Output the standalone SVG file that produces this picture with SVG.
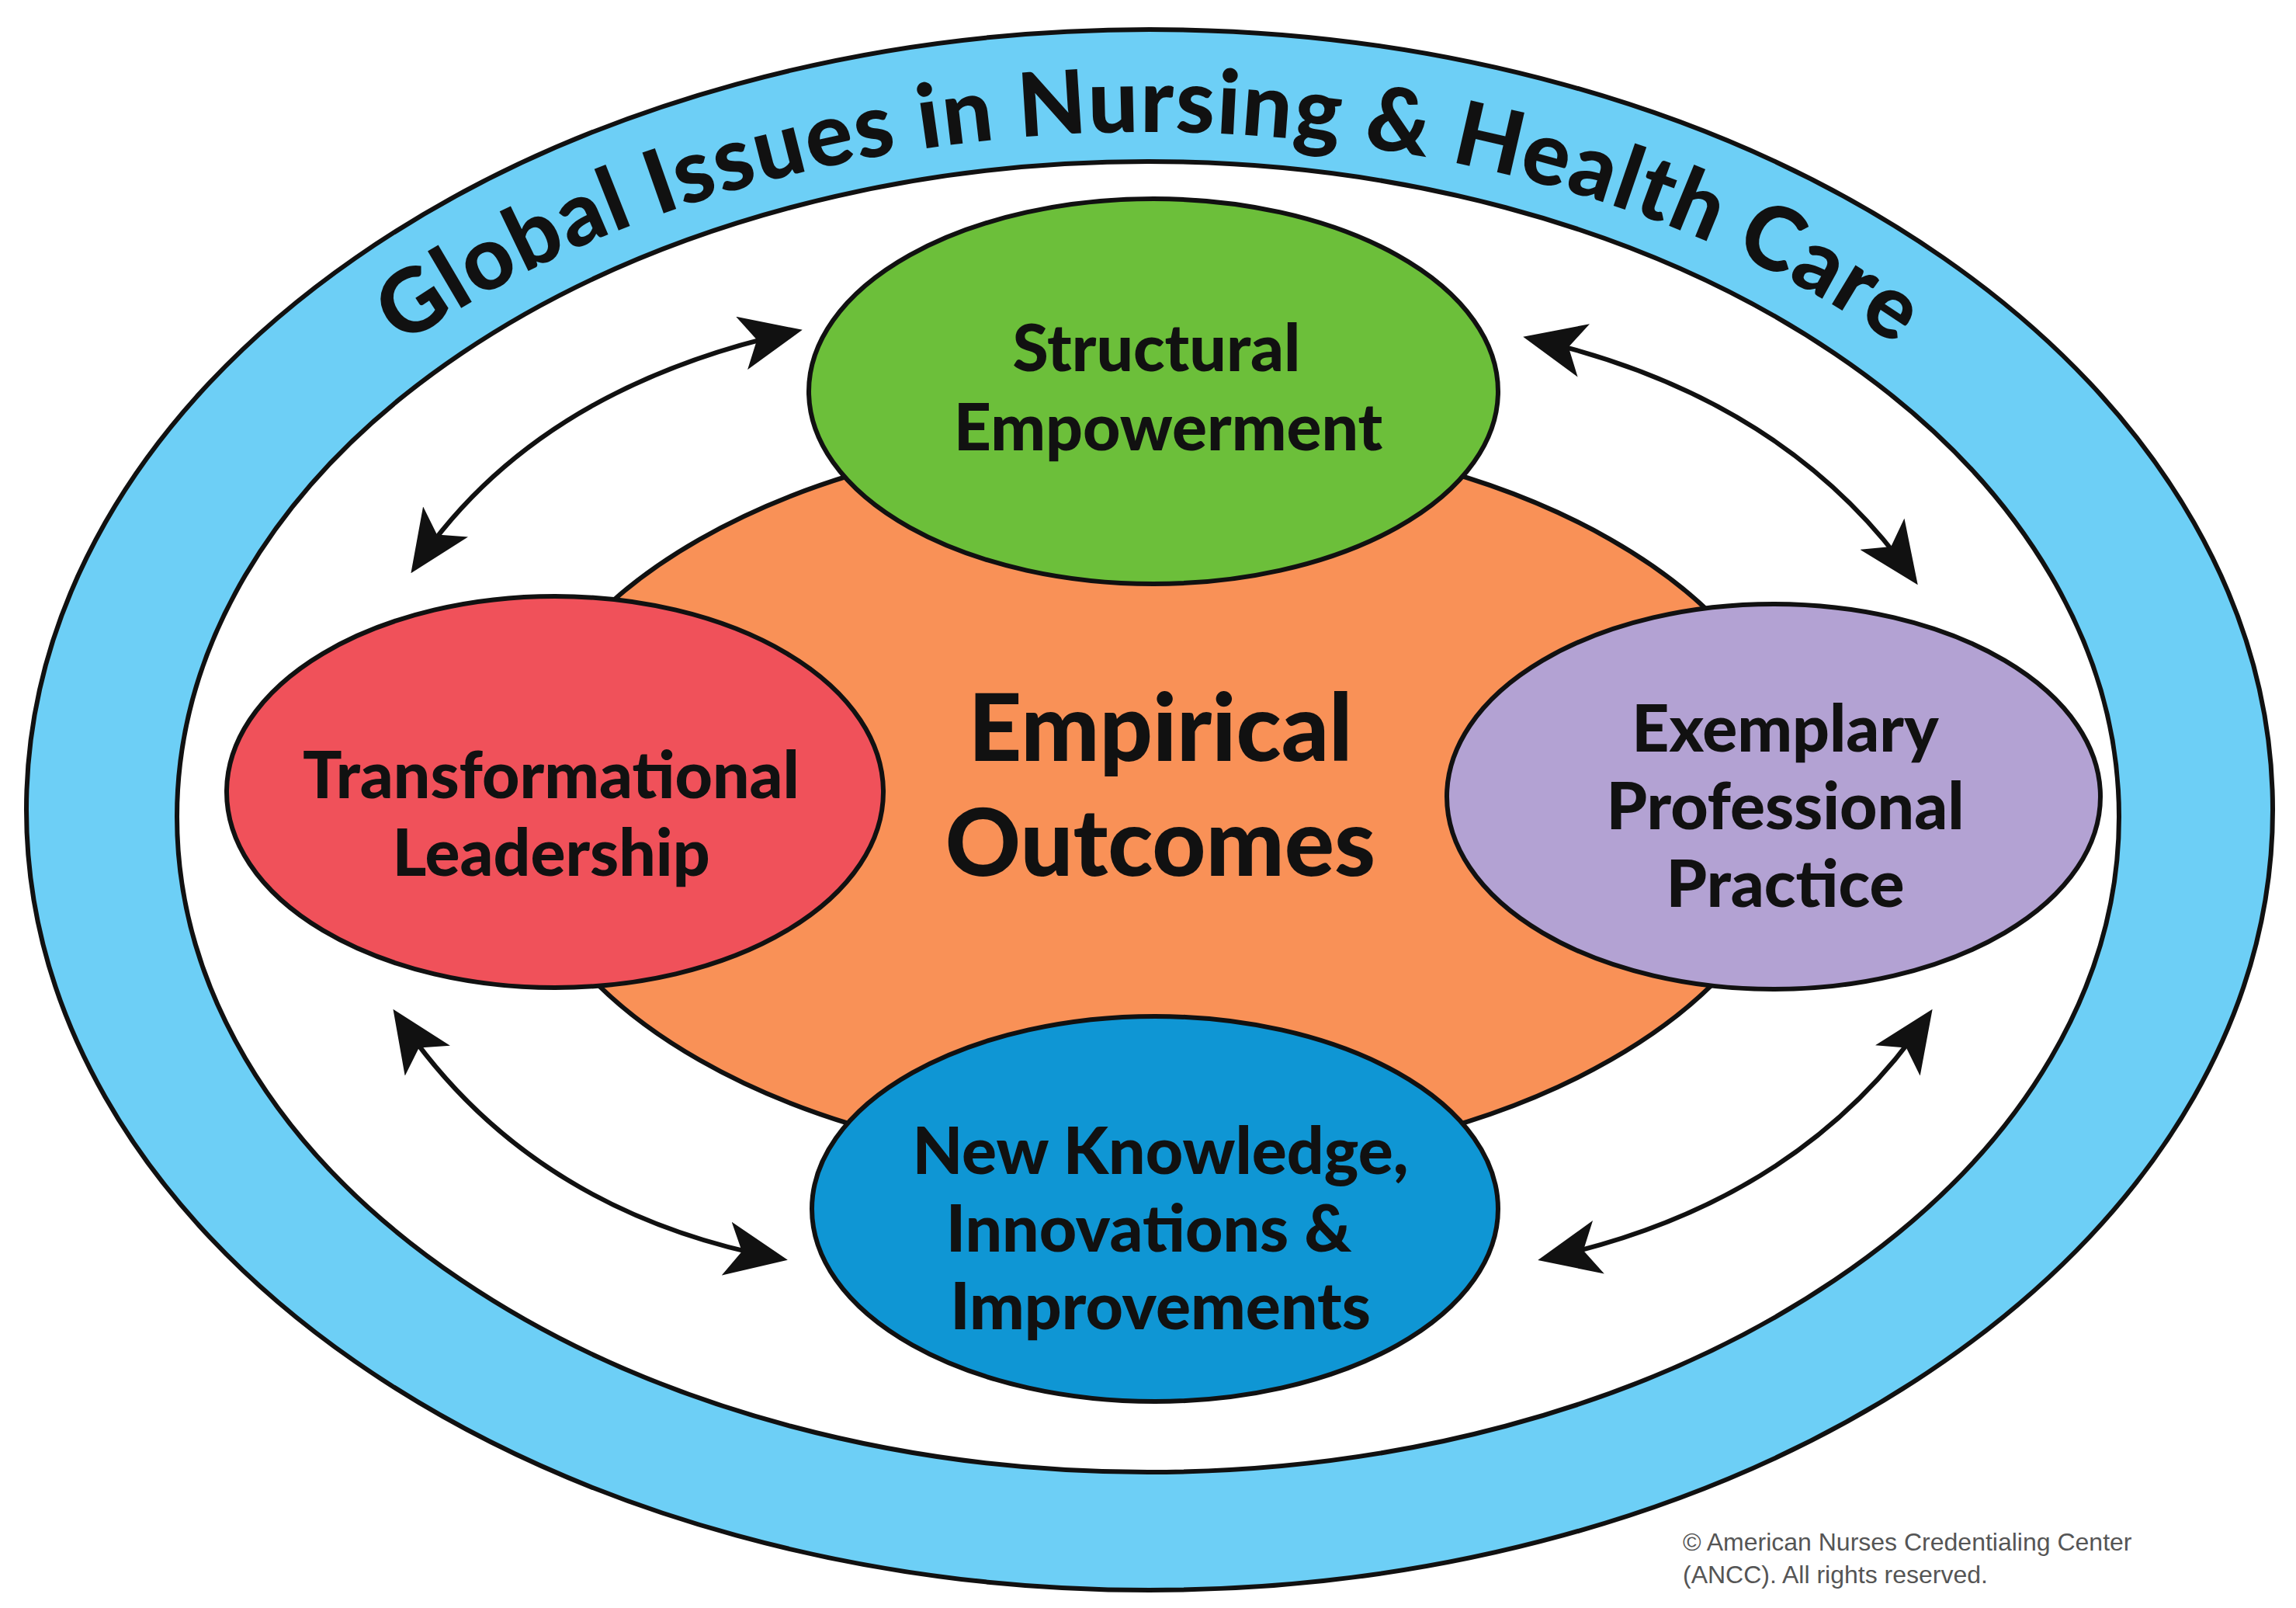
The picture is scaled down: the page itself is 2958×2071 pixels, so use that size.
<svg xmlns="http://www.w3.org/2000/svg" width="2958" height="2071" viewBox="0 0 2958 2071">
<style>
.t{font-family:Lato,"Open Sans","Liberation Sans",sans-serif;font-weight:900;fill:#111;text-anchor:middle}
.e{stroke:#111;stroke-width:6}
.c{fill:none;stroke:#111;stroke-width:6}
</style>
<defs>
<marker id="ah" markerUnits="userSpaceOnUse" markerWidth="80" markerHeight="70" refX="70" refY="35" orient="auto-start-reverse" viewBox="0 0 80 70"><path d="M0,0 L80,35 L0,70 L20,35 Z" fill="#111"/></marker>
<path id="arc" d="M151,1060 A1330 890 0 0 1 2811,1060"/>
</defs>
<rect width="2958" height="2071" fill="#fff"/>
<g id="outer"><ellipse cx="1481" cy="1043" rx="1447" ry="1005" fill="#6dcff6" class="e"/>
<ellipse cx="1479" cy="1052" rx="1251" ry="844" fill="#fff" class="e"/>
<text class="t" font-size="114" letter-spacing="2"><textPath href="#arc" startOffset="50%">Global Issues in Nursing &amp; Health Care</textPath></text></g>
<g id="empirical"><ellipse cx="1488" cy="1030" rx="830" ry="474" fill="#f99157" class="e"/>
<text class="t" font-size="120" x="1495" y="980">Empirical</text><text class="t" font-size="120" x="1495" y="1128">Outcomes</text></g>
<g id="structural"><ellipse cx="1486" cy="504" rx="444" ry="248" fill="#6cbf3a" class="e"/>
<text class="t" font-size="84" x="1490" y="478">Structural</text><text class="t" font-size="84" x="1505" y="580">Empowerment</text></g>
<g id="transformational"><ellipse cx="715" cy="1020" rx="423" ry="252" fill="#f0515a" class="e"/>
<text class="t" font-size="84" x="710" y="1028">Transformational</text><text class="t" font-size="84" x="710" y="1128">Leadership</text></g>
<g id="exemplary"><ellipse cx="2285" cy="1026" rx="421" ry="248" fill="#b3a2d3" class="e"/>
<text class="t" font-size="84" x="2300" y="968">Exemplary</text><text class="t" font-size="84" x="2300" y="1068">Professional</text><text class="t" font-size="84" x="2300" y="1168">Practice</text></g>
<g id="newknowledge"><ellipse cx="1488" cy="1557" rx="442" ry="248" fill="#0f96d4" class="e"/>
<text class="t" font-size="84" x="1495" y="1512">New Knowledge,</text><text class="t" font-size="84" x="1480" y="1612">Innovations &amp;</text><text class="t" font-size="84" x="1495" y="1712">Improvements</text></g>
<g id="connectors">
<path class="c" d="M535,730 Q690,500 1024,427" marker-start="url(#ah)" marker-end="url(#ah)"/>
<path class="c" d="M1972,436 Q2300,510 2465,745" marker-start="url(#ah)" marker-end="url(#ah)"/>
<path class="c" d="M512,1308 Q680,1560 1005,1621" marker-start="url(#ah)" marker-end="url(#ah)"/>
<path class="c" d="M1991,1621 Q2320,1550 2484,1308" marker-start="url(#ah)" marker-end="url(#ah)"/>
</g>
<g id="copyright" font-family="'Liberation Sans',sans-serif" font-size="32" fill="#555">
<text x="2168" y="1997">© American Nurses Credentialing Center</text><text x="2168" y="2039">(ANCC). All rights reserved.</text></g>
</svg>
